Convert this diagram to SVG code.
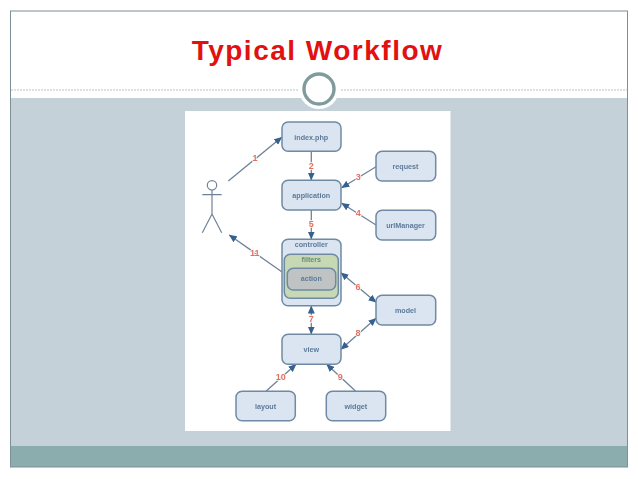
<svg xmlns="http://www.w3.org/2000/svg" width="638" height="479" viewBox="0 0 638 479">
<style>
text{font-family:"Liberation Sans",Arial,sans-serif;text-anchor:middle}
.n{fill:#dbe5f1;stroke:#6f8aa3;stroke-width:1.5}
.t{font-size:7.2px;font-weight:bold;fill:#5d7a99}
.c{stroke:#6f8299;stroke-width:1.3;fill:none;marker-end:url(#a)}
.d{marker-start:url(#b)}
.l{font-size:9px;fill:#e0705f;font-weight:bold;stroke:#fff;stroke-width:1.5px;paint-order:stroke}
.p{stroke:#6f8299;stroke-width:1.2;fill:none}
</style>
<defs>
<marker id="a" markerWidth="8" markerHeight="7" refX="7.500" refY="3.500" orient="auto" markerUnits="userSpaceOnUse"><path d="M0 0L8 3.500L0 7z" fill="#34608f"/></marker>
<marker id="b" markerWidth="8" markerHeight="7" refX="0.500" refY="3.500" orient="auto" markerUnits="userSpaceOnUse"><path d="M8 0L0 3.500L8 7z" fill="#34608f"/></marker>
<filter id="s" x="-5%" y="-5%" width="110%" height="110%"><feGaussianBlur stdDeviation="0.4"/></filter>
</defs>
<rect width="638" height="479" fill="#fff"/>
<g id="slide">
<rect x="10.5" y="98" width="617" height="348" fill="#c5d1d8"/>
<rect x="10.5" y="446" width="617" height="21" fill="#8cadae"/>
<rect x="10.5" y="11" width="617" height="456" fill="none" stroke="#7d9095" stroke-width="1"/>
<line x1="11" y1="90" x2="627" y2="90" stroke="#9aa6a9" stroke-width="0.7" stroke-dasharray="2 1"/>
<circle cx="319" cy="89" r="20" fill="#fff"/>
<rect x="298" y="70" width="42" height="28" fill="#fff"/>
<circle cx="319" cy="89" r="15" fill="#fff" stroke="#7f9b9c" stroke-width="3.4"/>
<text x="317.500" y="60" font-size="28" font-weight="bold" letter-spacing="1.5" fill="#e31010">Typical Workflow</text>
<rect x="185" y="111" width="265.500" height="320" fill="#fff"/>
</g>
<g filter="url(#s)">
<g id="connectors">
<path class="c" d="M228.300 181L281.700 137.300"/>
<path class="c" d="M311.300 151.300V180"/>
<path class="c" d="M376 166.700L341.700 187.700"/>
<path class="c" d="M376 225L341.700 203.300"/>
<path class="c" d="M311.300 210V239"/>
<path class="c" d="M281.700 271.700L229.300 235"/>
<path class="c d" d="M341 272.700L376 302.300"/>
<path class="c d" d="M311.300 306V334"/>
<path class="c d" d="M376 318.300L341 349.300"/>
<path class="c" d="M355.700 391.300L326.700 364.300"/>
<path class="c" d="M266 391.300L296 364.300"/>
</g>
<g id="connector-labels">
<text class="l" x="255" y="161">1</text>
<text class="l" x="311.300" y="168.700">2</text>
<text class="l" x="358.300" y="179.700">3</text>
<text class="l" x="358.300" y="216.300">4</text>
<text class="l" x="311.300" y="227">5</text>
<text class="l" x="358" y="289.700">6</text>
<text class="l" x="311.300" y="322">7</text>
<text class="l" x="358" y="335.700">8</text>
<text class="l" x="340.300" y="379.700">9</text>
<text class="l" x="280.700" y="380">10</text>
<text class="l" x="254.700" y="255.700">11</text>
</g>
<g id="actor">
<circle class="p" cx="212" cy="185.300" r="4.700"/>
<path class="p" d="M212 190V214M202.300 194.700H221.700M202.300 232.700L212 214L221.700 232.700"/>
</g>
<g id="index"><rect class="n" x="282" y="122" width="59" height="29.300" rx="6"/><text class="t" x="311.300" y="139.500">index.php</text></g>
<g id="application"><rect class="n" x="282" y="180.300" width="59" height="29.700" rx="6"/><text class="t" x="311.300" y="197.500">application</text></g>
<g id="request"><rect class="n" x="376" y="151.300" width="59.700" height="29.700" rx="6"/><text class="t" x="405.500" y="168.500">request</text></g>
<g id="urlManager"><rect class="n" x="376" y="210.300" width="59.700" height="29.700" rx="6"/><text class="t" x="405.500" y="227.500">urlManager</text></g>
<g id="controller"><rect class="n" x="282" y="239.300" width="59" height="66.400" rx="6"/><text class="t" x="311.300" y="246.500">controller</text></g>
<g id="filters"><rect x="284.300" y="254.300" width="54" height="44" rx="6" fill="#c6d9b4" stroke="#6f8aa3" stroke-width="1.500"/><text class="t" x="311.300" y="261.500" style="fill:#6a8a80">filters</text></g>
<g id="action"><rect x="287.300" y="268.300" width="48.400" height="21.700" rx="6" fill="#c0c3c4" stroke="#6f8aa3" stroke-width="1.500"/><text class="t" x="311.300" y="280.800">action</text></g>
<g id="model"><rect class="n" x="376" y="295.300" width="59.700" height="29.700" rx="6"/><text class="t" x="405.500" y="312.500">model</text></g>
<g id="view"><rect class="n" x="282" y="334.300" width="59" height="30" rx="6"/><text class="t" x="311.300" y="351.800">view</text></g>
<g id="layout"><rect class="n" x="236" y="391.300" width="59.300" height="29.400" rx="6"/><text class="t" x="265.500" y="408.800">layout</text></g>
<g id="widget"><rect class="n" x="326.300" y="391.300" width="59.400" height="29.400" rx="6"/><text class="t" x="355.800" y="408.800">widget</text></g>
</g>
</svg>
